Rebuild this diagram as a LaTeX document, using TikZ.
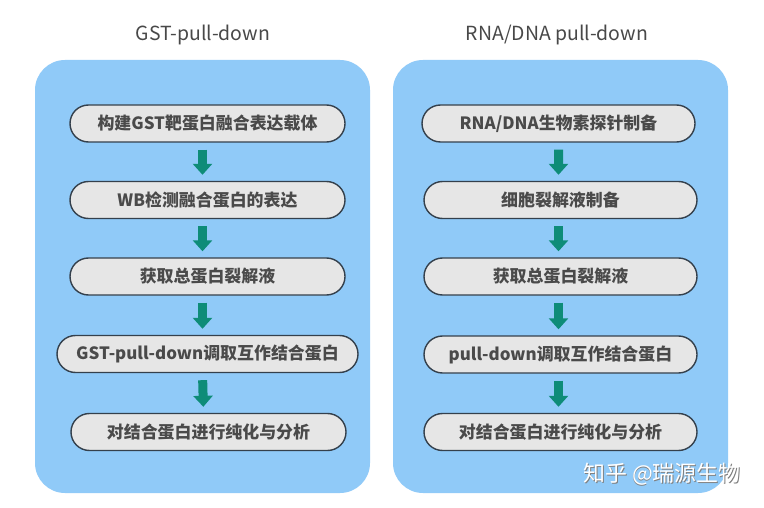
\documentclass[tikz,border=0pt]{standalone}
\usepackage{fontspec}
\setmainfont{Noto Sans CJK SC}
\usetikzlibrary{arrows.meta}
\definecolor{panelblue}{HTML}{90CAF8}
\definecolor{boxfill}{HTML}{E6E6E6}
\definecolor{boxline}{HTML}{34404C}
\definecolor{arrowteal}{HTML}{0E8C78}
\definecolor{txt}{HTML}{4A4A4A}
\definecolor{ttl}{HTML}{484848}
\begin{document}
\begin{tikzpicture}[x=1bp,y=-1bp,
  panel/.style={fill=panelblue, draw=none, rounded corners=30bp},
  stepbox/.style={draw=boxline, line width=1.4bp, fill=boxfill, rounded corners=18.5bp,
    minimum height=37bp, minimum width=275bp, inner sep=0pt, text=txt,
    font=\fontsize{17}{20}\selectfont\bfseries},
  flow/.style={-{Triangle[width=19bp,length=11bp]}, line width=9bp, draw=arrowteal,
    shorten <=7bp, shorten >=6bp},
  title/.style={text=ttl, font=\fontsize{19.5}{23}\selectfont},
  wmark/.style={font=\fontsize{22}{25}\selectfont}]
\useasboundingbox (0,0) rectangle (764,508);
\fill[white] (0,0) rectangle (764,508);
\fill[panel] (35,60) rectangle (370,493);
\fill[panel] (393,60) rectangle (728,493);
\node[title] (tl) at (203,35) {GST-pull-down};
\node[title] (tr) at (557,35) {RNA/DNA pull-down};
% left column
\node[stepbox] (l1) at (207.5,123.5) {构建GST靶蛋白融合表达载体};
\node[stepbox] (l2) at (207.5,200) {WB检测融合蛋白的表达};
\node[stepbox] (l3) at (207.5,276.5) {获取总蛋白裂解液};
\node[stepbox, minimum width=301bp] (l4) at (207.5,354) {GST-pull-down调取互作结合蛋白};
\node[stepbox] (l5) at (208.5,432) {对结合蛋白进行纯化与分析};
% right column
\node[stepbox, minimum width=273bp] (r1) at (558.5,123.5) {RNA/DNA生物素探针制备};
\node[stepbox, minimum width=273bp] (r2) at (560.5,200) {细胞裂解液制备};
\node[stepbox, minimum width=273bp] (r3) at (560.5,276.5) {获取总蛋白裂解液};
\node[stepbox, minimum width=273bp] (r4) at (560.5,354.5) {pull-down调取互作结合蛋白};
\node[stepbox, minimum width=273bp] (r5) at (560.5,432) {对结合蛋白进行纯化与分析};
% arrows
\foreach \a/\b in {l1/l2,l2/l3,l3/l4,l4/l5}
  \draw[flow] ([xshift=-5bp]\a.south) -- ([xshift=-5bp]\b.north);
\draw[flow] ([xshift=0bp]r1.south) -- ([xshift=-2bp]r2.north);
\foreach \a/\b in {r2/r3,r3/r4,r4/r5}
  \draw[flow] ([xshift=-2bp]\a.south) -- ([xshift=-2bp]\b.north);
% watermark
\node[wmark, text=black!50] at (662.8,474.8) {知乎 @瑞源生物};
\node[wmark, text=white] (wm) at (662,474) {知乎 @瑞源生物};
\end{tikzpicture}
\end{document}
